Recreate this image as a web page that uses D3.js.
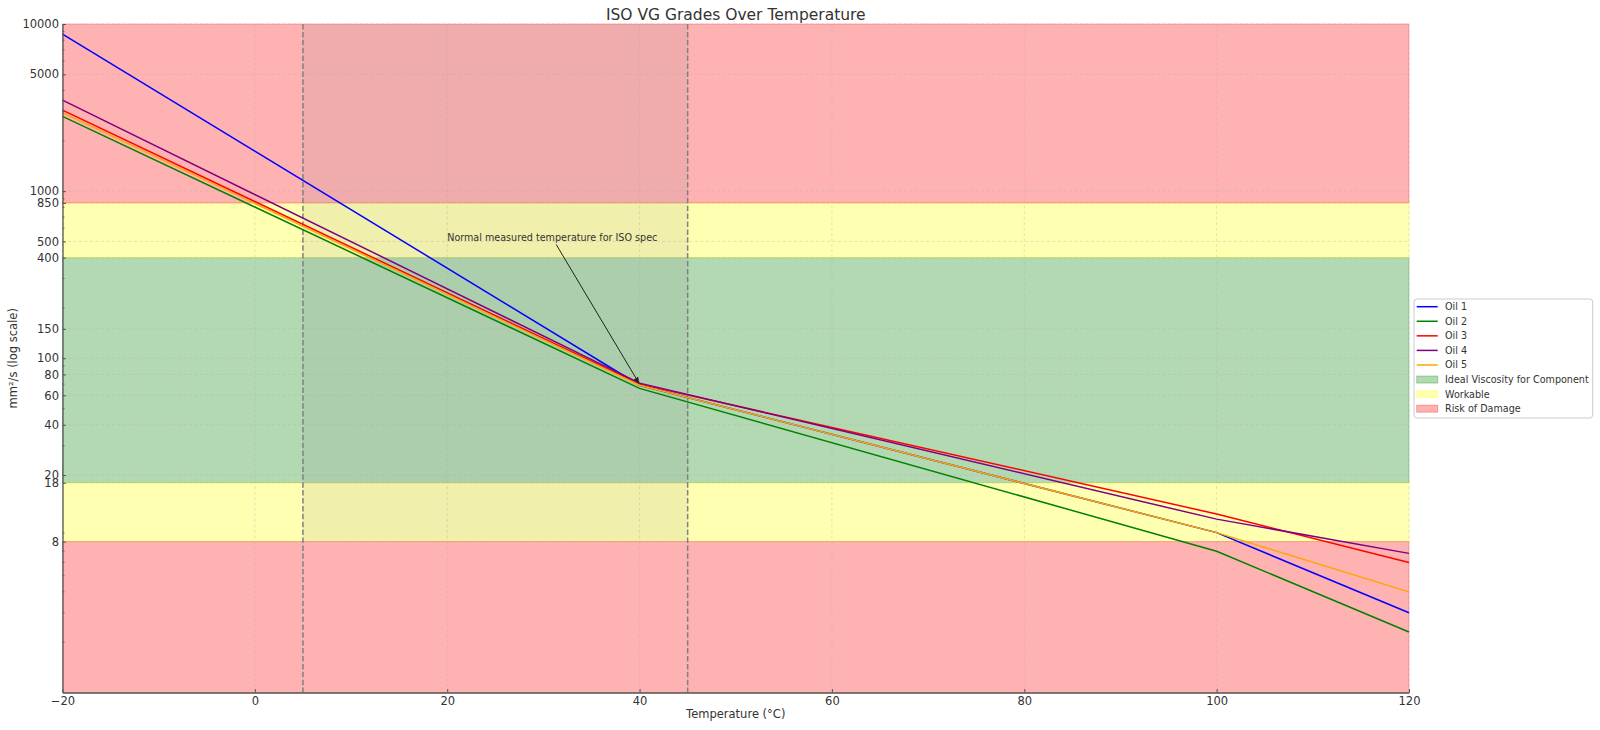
<!DOCTYPE html>
<html>
<head>
<meta charset="utf-8">
<script src="https://cdn.jsdelivr.net/npm/d3@7"></script>
<style>
body { margin: 0; background: #fff; }
text { font-family: "DejaVu Sans", sans-serif; }
</style>
</head>
<body>
<div id="chart"></div>
<script>
var temps = [-20, 40, 100, 120];
var oilNames = ["Oil 1", "Oil 2", "Oil 3", "Oil 4", "Oil 5"];
var oil1 = [8700, 69, 9.05, 3.0];
var oil2 = [2800, 66, 7.0, 2.3];
var oil3 = [3050, 70, 11.7, 6.0];
var oil4 = [3500, 71, 10.9, 6.8];
var oil5 = [2950, 69, 9.05, 4.0];
var oilColors = ["blue", "green", "red", "purple", "orange"];

var zoneNames = ["Ideal Viscosity for Component", "Workable", "Risk of Damage"];
var zoneColors = ["green", "yellow", "red"];
var bandLow = [18, 400, 8, 850, 1];
var bandHigh = [400, 850, 18, 10000, 8];
var bandZone = [0, 1, 1, 2, 2];

var specRange = [5, 45];
var specVisc = [8, 10000];
var annoText = "Normal measured temperature for ISO spec";
var annoAt = [20, 500];
var annoTarget = [40, 70];

var xTicks = [-20, 0, 20, 40, 60, 80, 100, 120];
var yTicks = [8, 18, 20, 40, 60, 80, 100, 150, 400, 500, 850, 1000, 5000, 10000];

var W = 1600, H = 730;
var pL = 62.5, pR = 1409, pT = 24, pB = 692.5;

var svg = d3.select("#chart").append("svg")
            .attr("width", W)
            .attr("height", H);

var x = d3.scaleLinear().domain([-20, 120]).range([pL, pR]);
var y = d3.scaleLog().domain([1, 10000]).range([pB, pT]);

// bands
bandLow.forEach(function (lo, i) {
	svg.append("rect")
	   .attr("x", pL)
	   .attr("width", pR - pL)
	   .attr("y", y(bandHigh[i]))
	   .attr("height", y(lo) - y(bandHigh[i]))
	   .style("fill", zoneColors[bandZone[i]])
	   .style("fill-opacity", 0.3)
	   .style("stroke", zoneColors[bandZone[i]])
	   .style("stroke-opacity", 0.25)
	   .style("stroke-width", 1);
});

// grid
var grid = svg.append("g");
grid.selectAll(".gy").data(yTicks).enter().append("line")
    .attr("x1", pL).attr("x2", pR)
    .attr("y1", function (d) { return y(d); })
    .attr("y2", function (d) { return y(d); })
    .style("stroke", "#b0b0b0").style("stroke-opacity", 0.45)
    .style("stroke-width", 0.8).style("stroke-dasharray", "3,2.5");
grid.selectAll(".gx").data(xTicks).enter().append("line")
    .attr("y1", pT).attr("y2", pB)
    .attr("x1", function (d) { return x(d); })
    .attr("x2", function (d) { return x(d); })
    .style("stroke", "#b0b0b0").style("stroke-opacity", 0.45)
    .style("stroke-width", 0.8).style("stroke-dasharray", "3,2.5");

// spec range
svg.append("rect")
   .attr("x", x(specRange[0]))
   .attr("width", x(specRange[1]) - x(specRange[0]))
   .attr("y", y(specVisc[1]))
   .attr("height", y(specVisc[0]) - y(specVisc[1]))
   .style("fill", "gray")
   .style("fill-opacity", 0.12);
specRange.forEach(function (t) {
	svg.append("line")
	   .attr("x1", x(t)).attr("x2", x(t))
	   .attr("y1", pT).attr("y2", pB)
	   .style("stroke", "gray")
	   .style("stroke-width", 1.5)
	   .style("stroke-dasharray", "5.5,2.4");
});

// oils
var oils = [oil1, oil2, oil3, oil4, oil5];
var line = d3.line()
             .x(function (d) { return x(d[0]); })
             .y(function (d) { return y(d[1]); });
oils.forEach(function (vals, i) {
	svg.append("path")
	   .attr("d", line(temps.map(function (t, j) { return [t, vals[j]]; })))
	   .style("fill", "none")
	   .style("stroke", oilColors[i])
	   .style("stroke-width", 1.5);
});

// axes
var xAxis = svg.append("g")
               .attr("transform", "translate(0," + pB + ")")
               .call(d3.axisBottom(x).tickValues(xTicks).tickSizeInner(-3.5).tickSizeOuter(0).tickPadding(4)
                       .tickFormat(function (d) { return d < 0 ? "\u2212" + (-d) : d; }));
var yAxis = svg.append("g")
               .attr("transform", "translate(" + pL + ",0)")
               .call(d3.axisLeft(y).tickValues(yTicks).tickSizeInner(-3.5).tickSizeOuter(0).tickPadding(3.5)
                       .tickFormat(d3.format("d")));
[xAxis, yAxis].forEach(function (a) {
	a.select(".domain").style("stroke", "#555").style("stroke-width", 1.3);
	a.selectAll(".tick line").style("stroke", "#555");
	a.selectAll(".tick text").style("font-family", "DejaVu Sans").style("font-size", "11.5px").style("fill", "#333");
});

var minor = [];
for (var k = 0; k < 4; k++) {
	for (var m = 2; m < 10; m++) {
		var v = m * Math.pow(10, k);
		if (yTicks.indexOf(v) < 0) minor.push(v);
	}
}
svg.selectAll(".minor").data(minor).enter().append("line")
   .attr("x1", pL).attr("x2", pL + 2)
   .attr("y1", function (d) { return y(d); })
   .attr("y2", function (d) { return y(d); })
   .style("stroke", "#555").style("stroke-width", 0.8);

// annotation
var anno = svg.append("text")
              .attr("x", x(annoAt[0]))
              .attr("y", y(annoAt[1]))
              .style("font-size", "9.6px")
              .style("fill", "#333")
              .text(annoText);
var bb = anno.node().getBBox();
var cx = bb.x + bb.width / 2, cy = bb.y + bb.height / 2;
var tx = x(annoTarget[0]), ty = y(annoTarget[1]);
var sy = bb.y + bb.height + 1;
var sx = cx + (tx - cx) * (sy - cy) / (ty - cy);
var ang = Math.atan2(ty - sy, tx - sx);
var hl = 7, hw = 2.5;
var bx = tx - hl * Math.cos(ang), by = ty - hl * Math.sin(ang);
svg.append("line")
   .attr("x1", sx).attr("y1", sy)
   .attr("x2", bx).attr("y2", by)
   .style("stroke", "#222").style("stroke-width", 1);
svg.append("path")
   .attr("d", "M" + tx + "," + ty +
              "L" + (bx + hw * Math.sin(ang)) + "," + (by - hw * Math.cos(ang)) +
              "L" + (bx - hw * Math.sin(ang)) + "," + (by + hw * Math.cos(ang)) + "Z")
   .style("fill", "#222");

// titles
svg.append("text")
   .attr("x", (pL + pR) / 2).attr("y", 19.5)
   .attr("text-anchor", "middle")
   .style("font-size", "15.5px").style("fill", "#333")
   .text("ISO VG Grades Over Temperature");
svg.append("text")
   .attr("x", (pL + pR) / 2).attr("y", 718)
   .attr("text-anchor", "middle")
   .style("font-size", "11.5px").style("fill", "#333")
   .text("Temperature (\u00b0C)");
svg.append("text")
   .attr("transform", "translate(17," + (pT + pB) / 2 + ") rotate(-90)")
   .attr("text-anchor", "middle")
   .style("font-size", "11.5px").style("fill", "#333")
   .text("mm\u00b2/s (log scale)");

// legend
var lgFont = 9.6;
var lg = svg.append("g").attr("transform", "translate(1414,299)");
var lgBox = lg.append("rect")
              .attr("height", 119)
              .attr("rx", 3)
              .style("fill", "white").style("fill-opacity", 0.8)
              .style("stroke", "#ccc");
var items = oilNames.concat(zoneNames);
var maxW = 0;
items.forEach(function (name, i) {
	var ly = 7.7 + i * 14.57;
	if (i < oilNames.length) {
		lg.append("line")
		  .attr("x1", 2.7).attr("x2", 23.7)
		  .attr("y1", ly).attr("y2", ly)
		  .style("stroke", oilColors[i]).style("stroke-width", 1.5);
	} else {
		var c = zoneColors[i - oilNames.length];
		lg.append("rect")
		  .attr("x", 2.7).attr("width", 21)
		  .attr("y", ly - 3.5).attr("height", 7)
		  .style("fill", c).style("fill-opacity", 0.3)
		  .style("stroke", c).style("stroke-opacity", 0.3);
	}
	var t = lg.append("text")
	          .attr("x", 31).attr("y", ly + 3.5)
	          .style("font-size", lgFont + "px").style("fill", "#333")
	          .text(name);
	maxW = Math.max(maxW, t.node().getComputedTextLength());
});
lgBox.attr("width", 31 + maxW + 4);
</script>
</body>
</html>
